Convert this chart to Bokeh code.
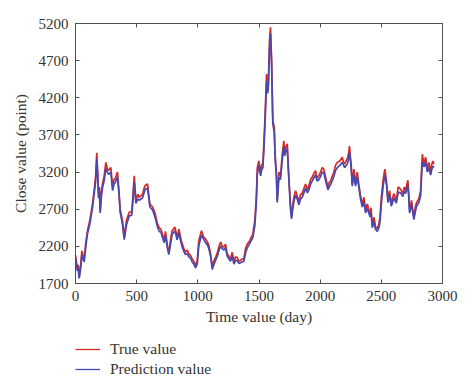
import numpy as np
from bokeh.plotting import figure
from bokeh.layouts import column
from bokeh.models import LinearAxis, Legend, LegendItem, Range1d, FixedTicker
from bokeh.embed import file_html
from bokeh.resources import INLINE

days = [0, 15, 22, 30, 42, 52, 62, 71, 85, 98, 117, 139, 155, 165, 174, 181, 188, 195, 202, 212,
        221, 235, 248, 260, 270, 289, 303, 315, 325, 343, 355, 365, 384, 398, 408, 417, 439, 460, 470, 480,
        488, 493, 510, 521, 548, 560, 570, 589, 598, 608, 630, 651, 670, 685, 698, 725, 736, 752, 763, 778,
        790, 812, 831, 845, 867, 886, 899, 913, 927, 940, 954, 968, 981, 995, 1008, 1030, 1049, 1063, 1078, 1090,
        1104, 1118, 1130, 1145, 1160, 1172, 1186, 1200, 1213, 1226, 1240, 1255, 1267, 1281, 1295, 1308, 1322, 1335, 1349, 1362,
        1376, 1390, 1404, 1418, 1431, 1450, 1466, 1478, 1486, 1499, 1513, 1522, 1532, 1540, 1548, 1562, 1570, 1576, 1586, 1594,
        1603, 1613, 1625, 1630, 1635, 1642, 1649, 1655, 1663, 1676, 1690, 1703, 1710, 1717, 1731, 1744, 1758, 1766, 1775, 1785,
        1799, 1812, 1826, 1840, 1853, 1867, 1881, 1895, 1908, 1922, 1935, 1948, 1962, 1975, 1990, 2003, 2017, 2030, 2044, 2063,
        2074, 2085, 2100, 2112, 2125, 2140, 2161, 2180, 2190, 2200, 2222, 2232, 2240, 2247, 2254, 2262, 2276, 2289, 2303, 2317,
        2330, 2344, 2358, 2371, 2385, 2396, 2407, 2416, 2426, 2440, 2453, 2467, 2480, 2489, 2500, 2516, 2529, 2543, 2554, 2567,
        2581, 2592, 2603, 2612, 2622, 2638, 2657, 2676, 2688, 2698, 2707, 2717, 2724, 2731, 2747, 2756, 2766, 2777, 2788, 2807,
        2821, 2835, 2848, 2862, 2876, 2889, 2903, 2912, 2921, 2930]

true_value = [2080, 1900, 1950, 1790, 1950, 2140, 2060, 2030, 2260, 2410, 2550, 2770, 2990, 3150, 3460, 3200, 2900, 3000, 2680, 2950,
              3040, 3150, 3330, 3250, 3220, 3260, 3000, 3100, 3110, 3200, 2950, 2700, 2550, 2320, 2450, 2550, 2660, 2660, 2900, 3150,
              2950, 2820, 2900, 2860, 2900, 2980, 3020, 3040, 2900, 2770, 2730, 2640, 2500, 2450, 2430, 2290, 2400, 2200, 2120, 2300,
              2410, 2460, 2320, 2430, 2260, 2170, 2120, 2150, 2100, 2080, 2030, 2000, 1940, 2010, 2280, 2410, 2320, 2300, 2260, 2210,
              2100, 1920, 2000, 2050, 2120, 2190, 2260, 2200, 2190, 2230, 2100, 2060, 2030, 2120, 1990, 2060, 2050, 2000, 2010, 2030,
              2030, 2170, 2230, 2260, 2300, 2370, 2550, 2860, 3260, 3350, 3180, 3300, 3310, 3600, 3890, 4520, 4300, 4390, 4970, 5150,
              4700, 3890, 3800, 3500, 3350, 3200, 2820, 3000, 3200, 3150, 3440, 3620, 3450, 3530, 3580, 3130, 2730, 2600, 2750, 2860,
              2950, 2880, 2800, 2900, 2910, 2980, 3040, 2960, 3020, 3100, 3130, 3180, 3220, 3120, 3150, 3200, 3260, 3240, 3130, 3000,
              3060, 3080, 3150, 3200, 3290, 3330, 3350, 3400, 3340, 3310, 3380, 3450, 3550, 3400, 3290, 3040, 3240, 3040, 3200, 3020,
              2880, 2770, 2860, 2680, 2770, 2700, 2640, 2720, 2480, 2590, 2460, 2440, 2500, 2590, 2860, 3110, 3240, 3060, 2820, 2950,
              2770, 2850, 2910, 2860, 2820, 3000, 2970, 2910, 3000, 2950, 3020, 3090, 2900, 2680, 2820, 2700, 2590, 2720, 2790, 2840,
              2950, 3440, 3310, 3400, 3240, 3330, 3200, 3300, 3350, 3310]

prediction_value = [2040, 1870, 1900, 1770, 1900, 2080, 2030, 1990, 2210, 2370, 2500, 2720, 2940, 3080, 3380, 3170, 2850, 2930, 2650, 2880,
                    2990, 3090, 3250, 3200, 3170, 3200, 2950, 3040, 3060, 3130, 2920, 2660, 2500, 2290, 2390, 2490, 2610, 2620, 2820, 3070,
                    2920, 2780, 2840, 2820, 2850, 2920, 2970, 2980, 2870, 2730, 2690, 2590, 2460, 2400, 2390, 2250, 2340, 2170, 2090, 2240,
                    2360, 2410, 2290, 2380, 2220, 2130, 2090, 2100, 2060, 2040, 1990, 1960, 1910, 1960, 2210, 2350, 2290, 2250, 2220, 2170,
                    2070, 1890, 1950, 2010, 2070, 2140, 2200, 2170, 2150, 2180, 2070, 2030, 2000, 2070, 1960, 2010, 2010, 1970, 1980, 1990,
                    2000, 2110, 2180, 2220, 2260, 2320, 2480, 2780, 3170, 3290, 3150, 3230, 3260, 3510, 3800, 4420, 4260, 4320, 4850, 5060,
                    4660, 3850, 3730, 3470, 3300, 3150, 2790, 2930, 3130, 3100, 3360, 3540, 3420, 3470, 3510, 3100, 2700, 2570, 2690, 2800,
                    2890, 2840, 2760, 2840, 2860, 2920, 2980, 2920, 2960, 3040, 3080, 3120, 3160, 3080, 3100, 3140, 3200, 3190, 3090, 2960,
                    3000, 3030, 3090, 3140, 3220, 3260, 3290, 3330, 3300, 3260, 3310, 3370, 3470, 3370, 3240, 3010, 3170, 3010, 3130, 2990,
                    2840, 2730, 2800, 2650, 2710, 2660, 2600, 2650, 2450, 2530, 2430, 2400, 2450, 2530, 2770, 3030, 3160, 3020, 2790, 2890,
                    2740, 2790, 2850, 2820, 2780, 2930, 2920, 2870, 2940, 2910, 2960, 3020, 2870, 2650, 2760, 2670, 2560, 2660, 2740, 2790,
                    2880, 3340, 3270, 3330, 3200, 3260, 3160, 3230, 3280, 3260]

x_ticks = [0, 500, 1000, 1500, 2000, 2500, 3000]
y_ticks = [1700, 2200, 2700, 3200, 3700, 4200, 4700, 5200]

FONT = "Liberation Serif"
AX = "#505050"
TXT = "#333333"
RED = "#d42a24"
BLUE = "#4848b0"

p = figure(width=458, height=330, output_backend="svg", toolbar_location=None,
           x_axis_location=None, y_axis_location=None,
           x_range=Range1d(0, 3000), y_range=Range1d(1700, 5200),
           min_border_left=75, min_border_right=16, min_border_top=23, min_border_bottom=47)
p.grid.visible = False
p.outline_line_color = AX
p.background_fill_color = "white"
p.border_fill_color = "white"

p.line(days, true_value, line_color=RED, line_width=1.7)
p.line(days, prediction_value, line_color=BLUE, line_width=1.7)


def make_axis(ticks, label=None, show=True, standoff=5):
    ax = LinearAxis(ticker=FixedTicker(ticks=ticks))
    ax.axis_line_color = AX
    ax.major_tick_line_color = AX
    ax.major_tick_in = 4
    ax.major_tick_out = 0
    ax.minor_tick_line_color = None
    ax.major_label_text_font = FONT
    ax.major_label_text_font_size = "15px"
    ax.major_label_text_color = TXT
    ax.major_label_standoff = standoff
    if label:
        ax.axis_label = label
        ax.axis_label_text_font = FONT
        ax.axis_label_text_font_size = "15.5px"
        ax.axis_label_text_font_style = "normal"
        ax.axis_label_text_color = TXT
        ax.axis_label_standoff = 4
    if not show:
        ax.major_label_text_font_size = "0px"
        ax.major_label_text_alpha = 0
    return ax


xb = make_axis(x_ticks, "Time value (day)", standoff=7)
yl = make_axis(y_ticks, "Close value (point)", standoff=7)
yl.axis_label_standoff = 7
xt = make_axis(x_ticks, show=False)
yr = make_axis(y_ticks, show=False)
p.add_layout(xb, "below")
p.add_layout(yl, "left")
p.add_layout(xt, "above")
p.add_layout(yr, "right")

# legend panel below the plot (legend-only renderers carry no drawable data)
q = figure(width=458, height=53, output_backend="svg", toolbar_location=None,
           x_axis_location=None, y_axis_location=None,
           x_range=Range1d(0, 1), y_range=Range1d(0, 1),
           min_border_left=0, min_border_right=0, min_border_top=0, min_border_bottom=0)
q.grid.visible = False
q.outline_line_color = None
nan1 = np.array([np.nan])
q_true = q.line(nan1, nan1, line_color=RED, line_width=1.3)
q_pred = q.line(nan1, nan1, line_color=BLUE, line_width=1.3)

legend = Legend(items=[LegendItem(label="True value", renderers=[q_true]),
                       LegendItem(label="Prediction value", renderers=[q_pred])],
                location=(0, 5), orientation="vertical")
legend.label_text_font = FONT
legend.label_text_font_size = "15.5px"
legend.label_text_color = TXT
legend.glyph_width = 25
legend.glyph_height = 18
legend.label_height = 18
legend.label_standoff = 10
legend.spacing = 2
legend.padding = 0
legend.margin = 0
legend.border_line_color = None
legend.background_fill_alpha = 0
q.add_layout(legend, "center")

layout = column(p, q, spacing=0)
open("out.html", "w").write(file_html(layout, INLINE))
